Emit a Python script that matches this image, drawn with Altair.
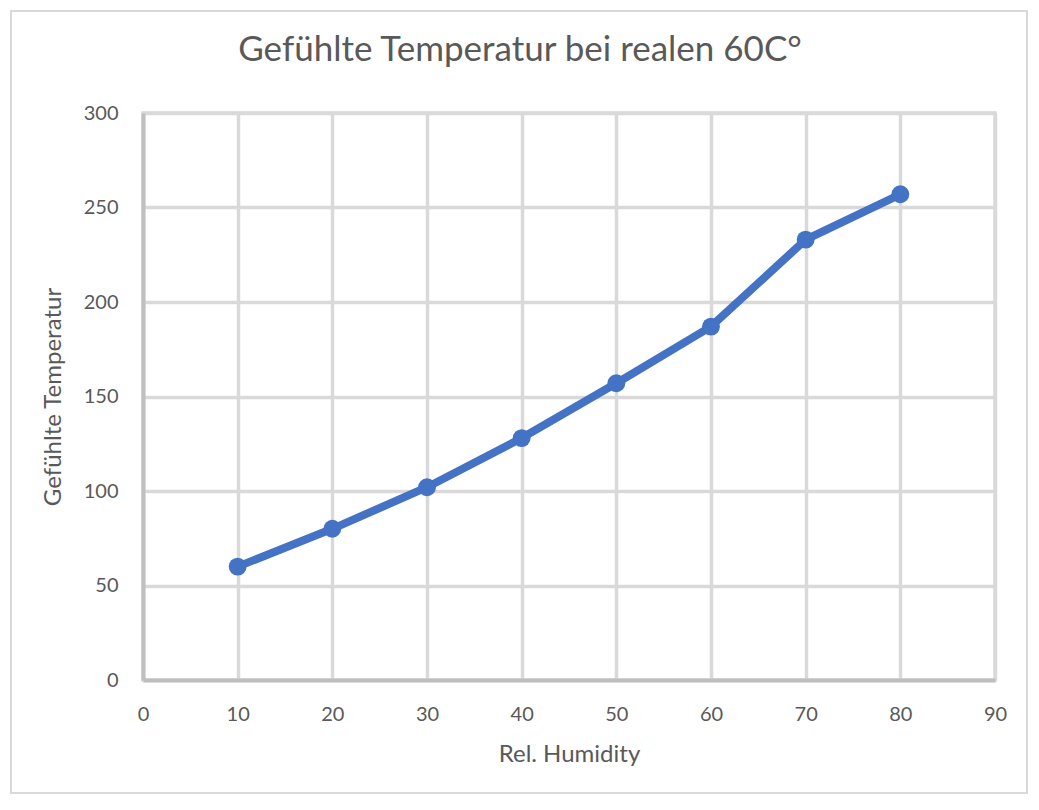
import altair as alt
import pandas as pd

humidity = [10, 20, 30, 40, 50, 60, 70, 80]
felt_temp = [60, 80, 102, 128, 157, 187, 233, 257]
x_ticks = [0, 10, 20, 30, 40, 50, 60, 70, 80, 90]
y_ticks = [0, 50, 100, 150, 200, 250, 300]

df = pd.DataFrame({"humidity": humidity, "felt": felt_temp})

FONT = "Lato"
BLUE = "#4472C4"
W, H = 852, 567

x_enc = alt.X("humidity:Q",
              scale=alt.Scale(domain=[0, 90], nice=False, zero=True),
              axis=alt.Axis(values=x_ticks, title="Rel. Humidity", labelPadding=24,
                            titlePadding=18, labelFlush=False))
y_enc = alt.Y("felt:Q",
              scale=alt.Scale(domain=[0, 300], nice=False),
              axis=alt.Axis(values=y_ticks, title="Gefühlte Temperatur", labelPadding=25,
                            titlePadding=18, labelFlush=False))

# light outer frame around the whole chart (decoration, pixel space)
frame = alt.Chart(pd.DataFrame({"k": [0]})).mark_rect(
    fill="white", fillOpacity=0, stroke="#D9D9D9", strokeWidth=2
).encode(x=alt.value(-132), x2=alt.value(W + 32), y=alt.value(-102), y2=alt.value(H + 113))

base = alt.Chart(df).encode(x=x_enc, y=y_enc)
line = base.mark_line(color=BLUE, strokeWidth=8)
points = base.mark_circle(color=BLUE, size=320, opacity=1)

chart = (frame + line + points).properties(
    width=W,
    height=H,
    autosize=alt.AutoSizeParams(type="none"),
    padding={"left": 135, "top": 105, "right": 35, "bottom": 116},
    title=alt.TitleParams("Gefühlte Temperatur bei realen 60C°", anchor="middle",
                          dx=-49, offset=-58, fontSize=35, font=FONT,
                          fontWeight="normal", color="#595959"),
).configure_axis(
    labelFont=FONT, labelFontSize=20, labelColor="#595959",
    titleFont=FONT, titleFontSize=24, titleColor="#595959", titleFontWeight="normal",
    grid=True, gridColor="#D9D9D9", gridWidth=3.5,
    domainColor="#BFBFBF", domainWidth=4, ticks=False,
).configure_view(stroke="#D9D9D9", strokeWidth=3.5)

chart.save("out.html", embed_options={"renderer": "svg", "actions": False})
